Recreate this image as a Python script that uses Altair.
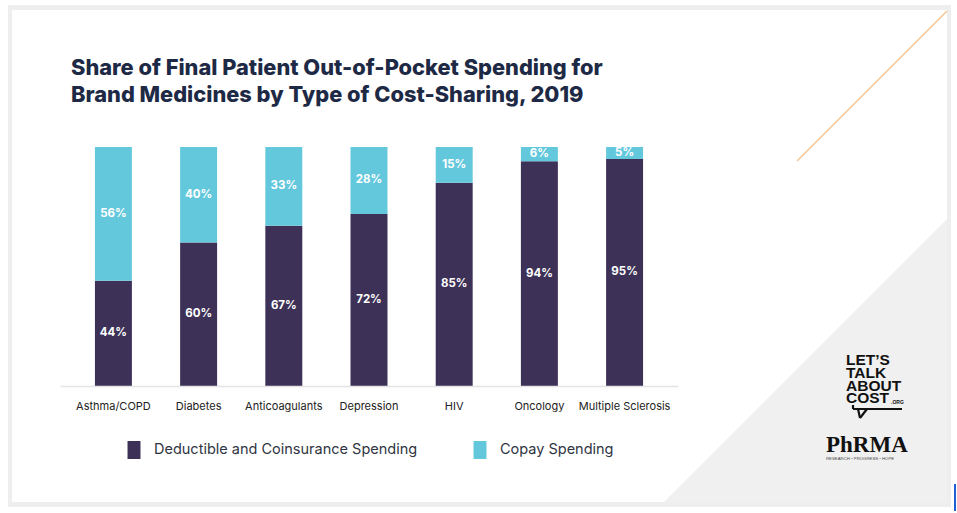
import altair as alt
import pandas as pd

categories = ["Asthma/COPD", "Diabetes", "Anticoagulants", "Depression", "HIV", "Oncology", "Multiple Sclerosis"]
deductible = [44, 60, 67, 72, 85, 94, 95]
copay = [56, 40, 33, 28, 15, 6, 5]
series = ["Deductible and Coinsurance Spending", "Copay Spending"]
colors = ["#3d3158", "#64c8dd"]

rows = []
for c, d, p in zip(categories, deductible, copay):
    rows.append({"cat": c, "series": series[0], "order": 0, "value": d})
    rows.append({"cat": c, "series": series[1], "order": 1, "value": p})
df = pd.DataFrame(rows)
dummy = pd.DataFrame({"d": [0]})

FONT = "Inter"
OX, OY = 60, 147  # plot origin in page pixels

def px(v):
    return alt.value(v - OX)

def py(v):
    return alt.value(v - OY)

base_dec = alt.Chart(dummy)

outer = base_dec.mark_rect(color="#eeeeee").encode(x=px(8), x2=px(951), y=py(5), y2=py(507))
inner = base_dec.mark_rect(color="#ffffff").encode(x=px(12), x2=px(947), y=py(10), y2=py(502))
tri = base_dec.mark_point(
    shape="M1,-1L1,1L-1,1Z", filled=True, opacity=1, color="#f0f0f0", size=284 * 284
).encode(x=px(805), y=py(361))
orange = base_dec.mark_rule(color="#f5c08a", strokeWidth=1.2).encode(
    x=px(947), y=py(11), x2=px(797), y2=py(161))
blue = base_dec.mark_rule(color="#1f5fd8", strokeWidth=2).encode(
    x=px(955), y=py(484), x2=px(955), y2=py(511))

title = base_dec.mark_text(
    align="left", baseline="alphabetic", font=FONT, fontWeight=800, fontSize=21.8,
    color="#1e2a45", lineHeight=27
).encode(
    x=px(71), y=py(75),
    text=alt.value(["Share of Final Patient Out-of-Pocket Spending for",
                    "Brand Medicines by Type of Cost-Sharing, 2019"]))

xenc = alt.X("cat:N", sort=categories,
             scale=alt.Scale(paddingInner=0.566, paddingOuter=0.41),
             axis=alt.Axis(title=None, labelAngle=0, ticks=False, domainColor="#e4e4e4",
                           domainWidth=1.5, labelFont=FONT, labelFontSize=11,
                           labelColor="#222222", labelPadding=14, zindex=1))

bars = alt.Chart(df).mark_bar().encode(
    x=xenc,
    y=alt.Y("value:Q", stack="zero", scale=alt.Scale(domain=[0, 100]), axis=None),
    color=alt.Color("series:N", sort=series,
                    scale=alt.Scale(domain=series, range=colors),
                    legend=alt.Legend(
                        title=None, orient="none", direction="horizontal",
                        legendX=125 - OX, legendY=441 - OY, padding=0,
                        symbolType="M-0.72,-1H0.72V1H-0.72Z", symbolSize=324,
                        symbolStrokeWidth=0, symbolOpacity=1,
                        labelFont=FONT, labelFontSize=14.5, labelColor="#2f3542",
                        labelOffset=11, columnPadding=53, labelLimit=400)),
    order=alt.Order("order:Q"),
)

labels = alt.Chart(df).transform_stack(
    stack="value", groupby=["cat"], as_=["v0", "v1"], sort=[alt.SortField("order")]
).transform_calculate(
    mid="(datum.v0 + datum.v1) / 2", lab="datum.value + '%'"
).mark_text(font=FONT, fontWeight="bold", fontSize=11.5, color="white", baseline="middle").encode(
    x=alt.X("cat:N", sort=categories),
    y=alt.Y("mid:Q"),
    text="lab:N",
)

logo_font = "Liberation Sans"
logo = base_dec.mark_text(
    align="left", baseline="alphabetic", font=logo_font, fontWeight="bold",
    fontSize=15.5, lineHeight=12.8, color="#111111"
).encode(x=px(846), y=py(365), text=alt.value(["LET\u2019S", "TALK", "ABOUT", "COST"]))
org = base_dec.mark_text(align="left", baseline="alphabetic", font=logo_font, fontWeight="bold",
                         fontSize=5, color="#111111").encode(x=px(891), y=py(403.5), text=alt.value(".ORG"))
bub1 = base_dec.mark_rule(color="#111111", strokeWidth=2.2).encode(x=px(853), x2=px(902), y=py(409), y2=py(409))
bub2 = base_dec.mark_rule(color="#111111", strokeWidth=2.2).encode(x=px(853), x2=px(853), y=py(405), y2=py(409))
bub3 = base_dec.mark_rule(color="#111111", strokeWidth=2.2).encode(x=px(858), x2=px(860), y=py(409), y2=py(418))
bub4 = base_dec.mark_rule(color="#111111", strokeWidth=2.2).encode(x=px(860), x2=px(867), y=py(418), y2=py(409))
phrma = base_dec.mark_text(align="left", baseline="alphabetic", font="Liberation Serif", fontWeight="bold",
                           fontSize=23, color="#111111").encode(x=px(826), y=py(452), text=alt.value("PhRMA"))
tag = base_dec.mark_text(align="left", baseline="alphabetic", font=logo_font,
                         fontSize=4.3, color="#444444").encode(
    x=px(826), y=py(460), text=alt.value("RESEARCH  \u2022  PROGRESS  \u2022  HOPE"))

chart = alt.layer(
    outer, inner, tri, orange, blue, title, bars, labels,
    logo, org, bub1, bub2, bub3, bub4, phrma, tag
).properties(
    width=618, height=239,
    autosize=alt.AutoSizeParams(type="none"),
    padding={"left": OX, "top": OY, "right": 957 - 678, "bottom": 513 - 386},
    background="white",
).configure_view(stroke=None)

chart.save("out.html", embed_options={"renderer": "svg", "actions": False})
